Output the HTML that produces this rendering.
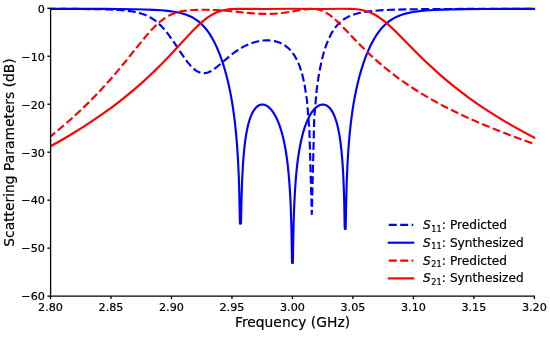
<!DOCTYPE html>
<html><head><meta charset="utf-8"><style>html,body{margin:0;padding:0;background:#fff;}svg{display:block;}svg text{stroke:#000;stroke-width:0.2px;stroke-linejoin:round;}</style></head>
<body><svg width="550" height="337" viewBox="0 0 550 337">
<defs><clipPath id="ax"><rect x="50.5" y="7.0" width="484.8" height="289.1"/></clipPath></defs>
<rect width="550" height="337" fill="#fff"/>
<g>

<g clip-path="url(#ax)" fill="none" stroke-linejoin="round">
<path d="M50.50 8.84 L77.11 8.93 L94.05 9.10 L108.57 9.44 L118.25 9.91 L125.50 10.52 L130.34 11.13 L132.76 11.52 L137.60 12.52 L140.02 13.16 L142.44 13.92 L144.86 14.81 L147.28 15.86 L149.70 17.09 L152.12 18.52 L154.54 20.17 L156.96 22.06 L159.38 24.20 L161.80 26.61 L164.22 29.28 L166.64 32.20 L169.06 35.36 L173.89 42.22 L183.57 56.67 L185.99 60.03 L188.41 63.15 L190.83 65.95 L193.25 68.36 L195.67 70.33 L198.09 71.81 L200.51 72.77 L202.93 73.19 L205.35 73.09 L207.77 72.50 L210.19 71.47 L212.61 70.08 L215.03 68.40 L217.45 66.52 L229.54 56.23 L234.38 52.48 L236.80 50.77 L239.22 49.19 L241.64 47.73 L244.06 46.41 L246.48 45.21 L248.90 44.15 L251.32 43.22 L253.74 42.42 L256.16 41.74 L258.58 41.20 L261.00 40.79 L263.42 40.52 L265.84 40.38 L268.26 40.39 L270.67 40.55 L273.09 40.87 L275.51 41.38 L277.93 42.08 L280.35 43.01 L282.77 44.20 L285.19 45.69 L287.61 47.54 L290.03 49.83 L292.45 52.67 L294.87 56.20 L297.29 60.66 L299.71 66.38 L302.13 73.94 L304.55 84.43 L306.97 100.35 L309.39 130.12 L311.81 214.06 L314.23 117.93 L316.65 90.27 L319.06 73.41 L321.48 61.34 L323.90 52.09 L326.32 44.74 L328.74 38.80 L331.16 33.93 L333.58 29.93 L336.00 26.63 L338.42 23.89 L340.84 21.62 L343.26 19.73 L345.68 18.16 L348.10 16.85 L350.52 15.74 L352.94 14.82 L355.36 14.03 L360.20 12.81 L365.04 11.91 L372.29 10.99 L379.55 10.38 L386.81 9.97 L396.49 9.61 L408.59 9.33 L423.10 9.14 L461.82 8.93 L534.40 8.83" stroke="#0000ff" stroke-width="2.15" stroke-dasharray="7.96 3.44" stroke-dashoffset="2.39" stroke-linecap="butt"/>
<path d="M50.50 8.83 L103.93 8.94 L133.77 9.22 L144.66 9.48 L153.73 9.83 L161.39 10.30 L167.85 10.89 L173.89 11.70 L179.34 12.75 L184.18 14.05 L186.40 14.79 L188.61 15.65 L190.63 16.55 L192.65 17.58 L194.46 18.63 L196.27 19.80 L198.09 21.12 L199.90 22.60 L201.52 24.07 L203.13 25.68 L205.35 28.17 L207.57 31.01 L209.58 33.92 L211.60 37.16 L213.61 40.78 L215.43 44.39 L217.24 48.35 L219.06 52.70 L220.87 57.48 L222.49 62.13 L224.10 67.22 L225.71 72.80 L227.12 78.17 L228.53 84.07 L229.74 89.64 L230.95 95.78 L231.96 101.44 L232.97 107.73 L234.58 119.53 L235.99 132.52 L237.20 147.06 L238.01 159.89 L238.82 177.56 L239.22 189.88 L239.83 218.95 L240.03 223.65 L240.83 223.65 L241.04 222.28 L241.44 201.17 L242.04 182.17 L242.85 166.22 L243.46 157.67 L244.06 150.84 L244.66 145.21 L245.27 140.44 L246.08 135.09 L246.88 130.62 L247.69 126.83 L248.70 122.83 L249.71 119.47 L250.71 116.65 L252.13 113.39 L253.54 110.81 L255.15 108.52 L255.96 107.61 L256.96 106.66 L257.77 106.03 L258.78 105.41 L259.59 105.04 L260.59 104.71 L261.40 104.56 L262.41 104.50 L263.42 104.58 L264.42 104.79 L265.43 105.14 L266.44 105.62 L267.45 106.23 L268.46 106.97 L270.47 108.85 L272.29 111.03 L274.10 113.71 L275.92 116.94 L277.53 120.35 L279.14 124.35 L280.76 129.06 L282.17 133.91 L283.58 139.61 L284.79 145.39 L286.00 152.27 L287.01 159.15 L287.81 165.69 L288.62 173.52 L289.22 180.60 L289.83 189.18 L290.43 200.04 L290.84 209.30 L291.44 228.81 L292.05 262.88 L292.85 262.88 L293.26 238.09 L293.66 221.25 L294.26 204.43 L295.07 189.21 L295.88 178.14 L296.68 169.46 L297.89 159.21 L299.10 151.10 L300.72 142.47 L302.53 134.77 L303.54 131.16 L304.55 127.93 L305.56 125.02 L306.77 121.91 L307.98 119.15 L309.39 116.32 L310.60 114.19 L312.01 112.02 L313.42 110.15 L314.83 108.57 L316.24 107.26 L317.85 106.08 L319.47 105.23 L320.88 104.75 L322.49 104.51 L323.90 104.58 L325.31 104.93 L326.73 105.57 L328.14 106.53 L329.55 107.86 L330.76 109.31 L331.97 111.11 L333.18 113.29 L334.19 115.47 L335.19 118.02 L336.20 121.02 L337.21 124.57 L338.02 127.90 L339.23 133.96 L340.44 141.78 L341.44 150.36 L342.25 159.37 L342.86 168.13 L343.26 175.44 L343.86 190.13 L344.27 204.43 L344.67 227.10 L344.87 228.91 L345.68 228.91 L346.08 205.68 L346.69 183.06 L347.49 164.03 L348.30 150.56 L349.51 135.51 L350.92 122.23 L352.53 110.25 L353.54 103.90 L354.55 98.18 L355.76 92.00 L357.17 85.53 L358.58 79.69 L359.99 74.38 L361.61 68.85 L363.22 63.81 L364.83 59.19 L366.65 54.43 L368.46 50.10 L370.48 45.73 L372.50 41.78 L374.51 38.21 L376.53 34.99 L378.75 31.83 L380.96 29.03 L383.18 26.55 L384.79 24.93 L386.61 23.28 L388.42 21.80 L390.24 20.48 L392.05 19.29 L394.07 18.11 L396.09 17.08 L398.10 16.16 L400.32 15.28 L402.54 14.51 L404.96 13.79 L407.58 13.12 L413.02 12.02 L419.27 11.14 L425.93 10.49 L433.59 9.98 L442.66 9.60 L453.55 9.31 L466.45 9.12 L482.99 8.98 L534.40 8.84" stroke="#0000ff" stroke-width="2.15" stroke-linecap="square"/>
<path d="M50.50 136.41 L57.76 130.51 L62.60 126.44 L72.28 117.97 L79.53 111.30 L84.37 106.69 L89.21 101.94 L94.05 97.05 L101.31 89.42 L106.15 84.14 L110.99 78.70 L115.83 73.09 L125.50 61.45 L142.44 40.42 L147.28 34.66 L152.12 29.26 L154.54 26.76 L156.96 24.42 L159.38 22.25 L161.80 20.28 L164.22 18.51 L166.64 16.95 L169.06 15.59 L171.48 14.42 L173.89 13.44 L176.31 12.63 L178.73 11.96 L181.15 11.42 L185.99 10.65 L188.41 10.38 L193.25 10.02 L198.09 9.83 L205.35 9.76 L210.19 9.84 L217.45 10.13 L222.28 10.44 L229.54 11.04 L246.48 12.76 L253.74 13.39 L261.00 13.82 L268.26 13.93 L275.51 13.66 L282.77 12.98 L290.03 11.91 L299.71 10.14 L304.55 9.35 L306.97 9.06 L309.39 8.86 L311.81 8.80 L314.23 8.91 L316.65 9.22 L319.06 9.75 L321.48 10.53 L323.90 11.56 L326.32 12.86 L328.74 14.40 L331.16 16.16 L333.58 18.13 L336.00 20.27 L340.84 24.92 L357.78 42.52 L365.04 49.80 L372.29 56.69 L379.55 63.16 L384.39 67.25 L389.23 71.17 L394.07 74.93 L398.91 78.53 L403.75 81.98 L408.59 85.30 L413.43 88.50 L420.68 93.07 L430.36 98.79 L435.20 101.51 L442.46 105.42 L454.56 111.55 L461.82 115.03 L469.07 118.36 L476.33 121.57 L483.59 124.67 L498.11 130.58 L515.04 137.08 L534.40 144.12" stroke="#ff0000" stroke-width="2.15" stroke-dasharray="7.96 3.44" stroke-dashoffset="1.96" stroke-linecap="butt"/>
<path d="M50.50 146.32 L61.39 140.19 L71.87 134.01 L82.16 127.64 L92.03 121.21 L101.51 114.72 L110.79 108.05 L119.66 101.32 L128.33 94.39 L135.18 88.65 L141.84 82.82 L148.49 76.75 L154.94 70.60 L161.60 63.99 L168.45 56.92 L174.90 50.04 L188.21 35.61 L194.26 29.29 L197.69 25.90 L200.91 22.91 L203.94 20.32 L206.76 18.13 L210.19 15.78 L213.61 13.82 L217.04 12.24 L220.47 11.02 L224.10 10.09 L227.93 9.44 L232.16 9.03 L237.20 8.83 L242.45 8.81 L262.00 9.01 L290.84 8.80 L321.89 9.01 L343.86 8.80 L350.32 8.87 L353.54 9.02 L356.37 9.24 L358.99 9.55 L361.61 9.99 L364.03 10.52 L366.45 11.19 L368.66 11.94 L370.88 12.82 L372.90 13.75 L374.91 14.80 L376.93 15.97 L378.95 17.26 L383.18 20.33 L387.82 24.17 L391.45 27.46 L395.68 31.53 L418.06 54.18 L424.72 60.68 L430.97 66.57 L438.22 73.14 L445.69 79.58 L453.35 85.88 L461.01 91.87 L469.28 98.02 L477.74 104.02 L486.41 109.85 L495.49 115.66 L504.76 121.32 L514.44 126.94 L524.32 132.41 L534.40 137.73" stroke="#ff0000" stroke-width="2.15" stroke-linecap="square"/>
</g>

<g stroke="#000" stroke-width="1.3" fill="none">
<line x1="50.6" y1="7.7" x2="50.6" y2="296.65000000000003"/>
<line x1="50.050000000000004" y1="296.1" x2="535.0" y2="296.1"/>
<line x1="50.50" y1="296.1" x2="50.50" y2="299.1"/><line x1="110.99" y1="296.1" x2="110.99" y2="299.1"/><line x1="171.47" y1="296.1" x2="171.47" y2="299.1"/><line x1="231.96" y1="296.1" x2="231.96" y2="299.1"/><line x1="292.45" y1="296.1" x2="292.45" y2="299.1"/><line x1="352.94" y1="296.1" x2="352.94" y2="299.1"/><line x1="413.42" y1="296.1" x2="413.42" y2="299.1"/><line x1="473.91" y1="296.1" x2="473.91" y2="299.1"/><line x1="534.40" y1="296.1" x2="534.40" y2="299.1"/><line x1="47.4" y1="8.30" x2="50.6" y2="8.30"/><line x1="47.4" y1="56.27" x2="50.6" y2="56.27"/><line x1="47.4" y1="104.23" x2="50.6" y2="104.23"/><line x1="47.4" y1="152.20" x2="50.6" y2="152.20"/><line x1="47.4" y1="200.17" x2="50.6" y2="200.17"/><line x1="47.4" y1="248.13" x2="50.6" y2="248.13"/><line x1="47.4" y1="296.10" x2="50.6" y2="296.10"/>
</g>
<g font-family="'DejaVu Sans', sans-serif" font-size="11.2" fill="#000">
<text x="50.50" y="310.7" text-anchor="middle">2.80</text><text x="110.99" y="310.7" text-anchor="middle">2.85</text><text x="171.47" y="310.7" text-anchor="middle">2.90</text><text x="231.96" y="310.7" text-anchor="middle">2.95</text><text x="292.45" y="310.7" text-anchor="middle">3.00</text><text x="352.94" y="310.7" text-anchor="middle">3.05</text><text x="413.42" y="310.7" text-anchor="middle">3.10</text><text x="473.91" y="310.7" text-anchor="middle">3.15</text><text x="534.40" y="310.7" text-anchor="middle">3.20</text><text x="44.9" y="12.60" text-anchor="end">0</text><text x="44.9" y="60.57" text-anchor="end">−10</text><text x="44.9" y="108.53" text-anchor="end">−20</text><text x="44.9" y="156.50" text-anchor="end">−30</text><text x="44.9" y="204.47" text-anchor="end">−40</text><text x="44.9" y="252.43" text-anchor="end">−50</text><text x="44.9" y="300.40" text-anchor="end">−60</text>
</g>
<text x="292.5" y="326.8" text-anchor="middle" font-family="'DejaVu Sans', sans-serif" font-size="13.85">Frequency (GHz)</text>
<text transform="translate(14.0 152.5) rotate(-90)" text-anchor="middle" font-family="'DejaVu Sans', sans-serif" font-size="13.85">Scattering Parameters (dB)</text>

<line x1="388.8" y1="224.9" x2="413.2" y2="224.9" stroke="#0000ff" stroke-width="2.15" stroke-dasharray="7.96 3.44"/><text y="228.90" font-family="'DejaVu Sans', sans-serif" font-size="12.15"><tspan x="423.0" font-style="italic">S</tspan><tspan x="431.3" font-size="8.1" dy="2.6">11</tspan><tspan x="441.8" dy="-2.6">:</tspan><tspan x="449.9">Predicted</tspan></text><line x1="388.8" y1="242.7" x2="413.2" y2="242.7" stroke="#0000ff" stroke-width="2.15" stroke-linecap="square"/><text y="246.70" font-family="'DejaVu Sans', sans-serif" font-size="12.15"><tspan x="423.0" font-style="italic">S</tspan><tspan x="431.3" font-size="8.1" dy="2.6">11</tspan><tspan x="441.8" dy="-2.6">:</tspan><tspan x="449.9">Synthesized</tspan></text><line x1="388.8" y1="260.6" x2="413.2" y2="260.6" stroke="#ff0000" stroke-width="2.15" stroke-dasharray="7.96 3.44"/><text y="264.60" font-family="'DejaVu Sans', sans-serif" font-size="12.15"><tspan x="423.0" font-style="italic">S</tspan><tspan x="431.3" font-size="8.1" dy="2.6">21</tspan><tspan x="441.8" dy="-2.6">:</tspan><tspan x="449.9">Predicted</tspan></text><line x1="388.8" y1="278.4" x2="413.2" y2="278.4" stroke="#ff0000" stroke-width="2.15" stroke-linecap="square"/><text y="282.40" font-family="'DejaVu Sans', sans-serif" font-size="12.15"><tspan x="423.0" font-style="italic">S</tspan><tspan x="431.3" font-size="8.1" dy="2.6">21</tspan><tspan x="441.8" dy="-2.6">:</tspan><tspan x="449.9">Synthesized</tspan></text>
</g>
</svg></body></html>
